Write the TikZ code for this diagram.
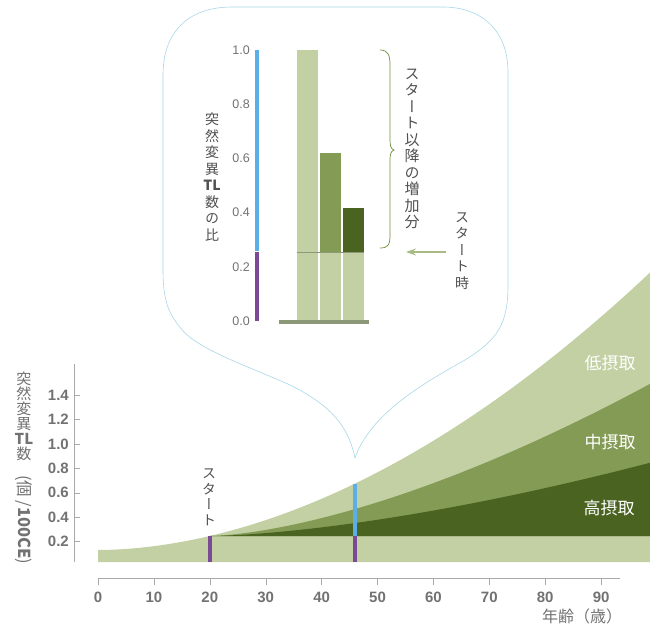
\documentclass[tikz,border=0pt]{standalone}
\usepackage{fontspec}
\setmainfont{Liberation Sans}
\newfontfamily\jp{Noto Sans CJK JP}
\newfontfamily\jpv[RawFeature=+vert]{Noto Sans CJK JP}
\usetikzlibrary{arrows.meta}
\definecolor{lowgreen}{HTML}{C2D0A3}
\definecolor{midgreen}{HTML}{849B55}
\definecolor{highgreen}{HTML}{4A6320}
\definecolor{startpurple}{HTML}{7A4A95}
\definecolor{nowblue}{HTML}{5AAFE6}
\definecolor{bubbleblue}{HTML}{A8D8E8}
\definecolor{axisgray}{HTML}{AAAAAA}
\definecolor{numgray}{HTML}{727272}
\definecolor{textgray}{HTML}{505050}
\definecolor{bracegreen}{HTML}{6E8C3C}
\definecolor{basegray}{HTML}{8C9878}

\tikzset{
  vlabel/.style={align=center, text=textgray, inner sep=0pt, font=\jpv\fontsize{14}{16.5}\selectfont},
  axisnum/.style={text=numgray, inner sep=0pt, font=\bfseries\fontsize{15}{15}\selectfont},
  insetnum/.style={text=numgray, inner sep=0pt, font=\fontsize{12.5}{12.5}\selectfont},
  intake/.style={text=white, inner sep=0pt, font=\jp\fontsize{17}{17}\selectfont}
}

\begin{document}
\begin{tikzpicture}[x=1pt,y=-1pt]
\useasboundingbox (0,0) rectangle (650,635);
% area chart
\fill[lowgreen] (98,562) -- plot[domain=0.01:98.75,samples=80] ({98+5.59*\x},{550-0.0517*\x^1.87}) -- (650,562) -- cycle;
\fill[midgreen] (210,536) -- plot[domain=20.01:98.75,samples=60] ({98+5.59*\x},{536-27*((\x-20)/26)^1.56}) -- (650,536) -- cycle;
\fill[highgreen] (210,536) -- plot[domain=20.01:98.75,samples=60] ({98+5.59*\x},{536-13*((\x-20)/26)^1.56}) -- (650,536) -- cycle;
\fill[startpurple] (208,536) rectangle (212,562);
\fill[nowblue] (353,484) rectangle (357,536);
\fill[startpurple] (353,536) rectangle (357,562);
\node[intake] (low) at (610,363) {低摂取};
\node[intake] (mid) at (610,442) {中摂取};
\node[intake] (high) at (609,508) {高摂取};
\node[vlabel,font=\jpv\fontsize{14}{15.5}\selectfont] (start) at (209,497) {ス\\タ\\ー\\ト};
% axes
\draw[axisgray] (98,578) -- (620,578);
\foreach \a in {0,10,...,90}
\draw[axisgray] (98+5.59*\a,578) -- (98+5.59*\a,585) node[axisnum,anchor=center] at (98+5.59*\a,597) {\a};
\node[text=numgray,inner sep=0pt,font=\jp\fontsize{16}{16}\selectfont] (agetitle) at (582,616) {年齢（歳）};
\draw[axisgray] (74,364) -- (74,562);
\foreach \v in {0.2,0.4,0.6,0.8,1.0,1.2,1.4}
\draw[axisgray] (74,566-122*\v) -- (80,566-122*\v) node[axisnum,anchor=east] at (69,566-122*\v) {\v};
\node[vlabel,text=numgray,anchor=north,font=\jpv\fontsize{15}{15}\selectfont] (ytitle) at (24,372) {突\\然\\変\\異\\\textbf{TL}\\数};
\node[text=numgray,inner sep=0pt,rotate=-90,anchor=west,font=\jp\fontsize{16.5}{16.5}\selectfont] (yunit) at (24,475) {(個 /\textbf{100CE})};
% callout
\filldraw[draw=bubbleblue,fill=white,line width=0.6pt] (355,458) .. controls (348,425) and (330,405) .. (290,385)
  .. controls (250,367) and (205,352) .. (185,333) .. controls (168,315) and (163,300) .. (163,270)
  -- (163,75) .. controls (163,32) and (188,7) .. (232,7) -- (443,7) .. controls (481,7) and (508,30) .. (508,72)
  -- (508,285) .. controls (508,325) and (497,340) .. (465,360) .. controls (420,385) and (370,415) .. (355,458) -- cycle;
% inset bars
\foreach \v in {0.0,0.2,0.4,0.6,0.8,1.0}
\node[insetnum,anchor=east] at (250,321-271*\v) {\v};
\fill[nowblue] (255,50) rectangle (259,251);
\fill[startpurple] (255,252) rectangle (259,321);
\fill[lowgreen] (297,50) rectangle (318,321);
\fill[lowgreen] (320,252) rectangle (341,321);
\fill[midgreen] (320,153) rectangle (341,252);
\fill[lowgreen] (343,252) rectangle (364,321);
\fill[highgreen] (343,208) rectangle (364,252);
\draw[basegray,line width=0.6pt] (297,252) -- (364,252);
\fill[basegray] (279,320) rectangle (369,324);
\node[vlabel] (ratio) at (212,177) {突\\然\\変\\異\\\textbf{TL}\\数\\の\\比};
\draw[bracegreen,line width=0.7pt] (380,50) .. controls (388,50) and (390,55) .. (390,65) -- (390,140)
  .. controls (390,146) and (391,149) .. (394,150) .. controls (391,151) and (390,154) .. (390,160)
  -- (390,235) .. controls (390,245) and (388,248) .. (380,248);
\node[vlabel,font=\jpv\fontsize{15}{16.5}\selectfont] (increase) at (412,149) {ス\\タ\\ー\\ト\\以\\降\\の\\増\\加\\分};
\node[vlabel] (startlabel) at (462,251) {ス\\タ\\ー\\ト\\時};
\coordinate (arrowtail) at (446,252);
\coordinate (arrowhead) at (406,252);
\draw[-{Stealth[length=10pt,width=7pt]},draw=lowgreen!60!midgreen,fill=midgreen,line width=1.5pt] (arrowtail) -- (arrowhead);
\end{tikzpicture}
\end{document}
